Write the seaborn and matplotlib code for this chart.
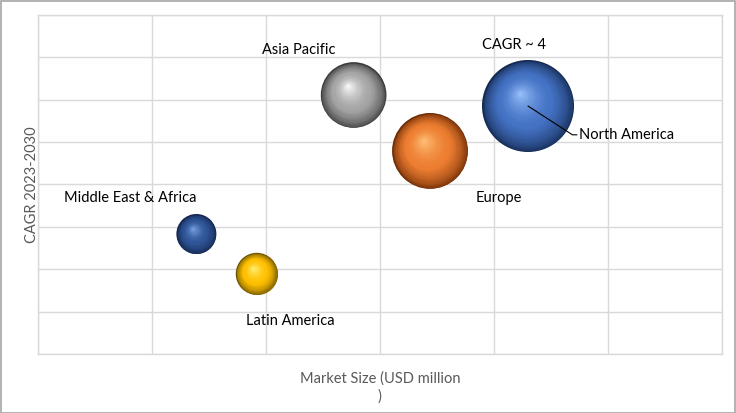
import numpy as np
import pandas as pd
import matplotlib.pyplot as plt
import matplotlib.colors as mcolors
import seaborn as sns

# Data (axis units = grid cells)
regions = ['North America', 'Europe', 'Asia Pacific', 'Latin America', 'Middle East & Africa']
market_size = [4.30, 3.44, 2.77, 1.92, 1.39]
cagr = [5.85, 4.79, 6.11, 1.89, 2.83]
bubble_weight = [100, 68, 51, 21, 19]
base_colors = ['#4472C4', '#ED7D31', '#A5A5A5', '#FFC000', '#2F5597']
light_colors = ['#9cc4ff', '#ffc47a', '#ffffff', '#fff27a', '#7fa8e8']
dark_colors = ['#142a52', '#6e2c05', '#3a3a3a', '#6b5200', '#12234a']

df = pd.DataFrame({'region': regions, 'x': market_size, 'y': cagr, 'w': bubble_weight})

sns.set_theme(style='white')
plt.rcParams['font.family'] = ['Lato', 'DejaVu Sans']

fig = plt.figure(figsize=(7.36, 4.13), dpi=100)
ax = fig.add_axes([0.0516, 0.143, 0.929, 0.821])

size_range = (829, 4390)
sns.scatterplot(data=df, x='x', y='y', size='w', sizes=size_range, hue='region',
                palette=dict(zip(regions, dark_colors)), legend=False, ax=ax,
                linewidth=0, zorder=3)

ax.set_xlim(0, 6)
ax.set_ylim(0, 8)

# fake 3D shading: stacked discs shrinking toward an upper-left highlight
w = np.array(bubble_weight, dtype=float)
sizes = size_range[0] + (w - w.min()) / (w.max() - w.min()) * (size_range[1] - size_range[0])
px_per_x = 684 / 6
px_per_y = 339 / 8
n_layers = 40
for i in range(len(regions)):
    r_px = np.sqrt(sizes[i]) / 2 / 0.72
    c_mid = np.array(mcolors.to_rgb(base_colors[i]))
    c_lo = np.array(mcolors.to_rgb(dark_colors[i]))
    c_hi = np.array(mcolors.to_rgb(light_colors[i]))
    for k in range(1, n_layers):
        t = k / n_layers
        scale = 1 - t
        if t < 0.4:
            col = c_lo + (c_mid - c_lo) * (t / 0.4) ** 0.6
        else:
            col = c_mid + (c_hi - c_mid) * ((t - 0.4) / 0.6) ** 1.6
        dx = -0.18 * r_px * t / px_per_x
        dy = 0.28 * r_px * t / px_per_y
        ax.scatter(market_size[i] + dx, cagr[i] + dy, s=sizes[i] * scale ** 2,
                   color=col, linewidths=0, zorder=3 + k * 0.01)

ax.set_xticks(range(0, 7))
ax.set_yticks(range(0, 9))
ax.set_xticklabels([])
ax.set_yticklabels([])
ax.tick_params(length=0)
ax.grid(True, color='#d9d9d9', linewidth=1)
for sp in ax.spines.values():
    sp.set_color('#d9d9d9')
    sp.set_linewidth(1)

ax.set_xlabel('Market Size (USD million\n)', color='#595959', fontsize=10.5, labelpad=9,
              linespacing=1.3)
ax.set_ylabel('CAGR 2023-2030', color='#595959', fontsize=10.5)
ax.yaxis.set_label_coords(0.001, 0.5)

# data labels
lab_kw = dict(fontsize=10.5, color='black', zorder=10)
ax.text(2.29, 7.18, 'Asia Pacific', ha='center', va='center', **lab_kw)
ax.text(4.18, 7.28, 'CAGR ~ 4', ha='center', va='center', **lab_kw)
ax.text(4.75, 5.17, 'North America', ha='left', va='center', **lab_kw)
ax.text(4.04, 3.68, 'Europe', ha='center', va='center', **lab_kw)
ax.text(0.81, 3.68, 'Middle East & Africa', ha='center', va='center', **lab_kw)
ax.text(2.21, 0.77, 'Latin America', ha='center', va='center', **lab_kw)
ax.plot([market_size[0], 4.69, 4.73], [cagr[0], 5.17, 5.17], color='black', linewidth=0.8, zorder=9)

fig.patches.append(plt.Rectangle((0.001, 0.001), 0.997, 0.997, transform=fig.transFigure,
                                 fill=False, edgecolor='#a6a6a6', linewidth=1.2))

fig.savefig('out.png', dpi=100)
